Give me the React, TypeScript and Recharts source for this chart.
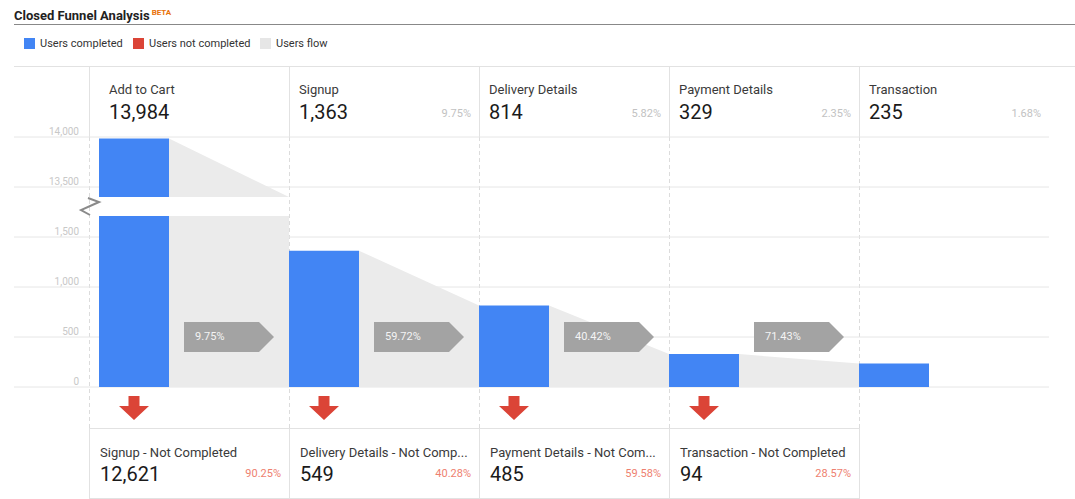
import React from "react";
import { ComposedChart, Area, Scatter, XAxis, YAxis, CartesianGrid } from "recharts";

// funnel steps
const steps = ["Add to Cart", "Signup", "Delivery Details", "Payment Details", "Transaction"];
const completed = [13984, 1363, 814, 329, 235];
const shareOfStart = ["", "9.75%", "5.82%", "2.35%", "1.68%"];
const conversion = ["9.75%", "59.72%", "40.42%", "71.43%"];

// drop-offs between steps (labels as shown, already shortened)
const dropNames = [
  "Signup - Not Completed",
  "Delivery Details - Not Comp...",
  "Payment Details - Not Com...",
  "Transaction - Not Completed",
];
const dropValues = [12621, 549, 485, 94];
const dropShare = ["90.25%", "40.28%", "59.58%", "28.57%"];

// broken y axis: two segments
const upperTicks = [13500, 14000];
const lowerTicks = [0, 500, 1000, 1500];
const upperDomain: [number, number] = [13400, 14000];
const lowerDomain: [number, number] = [0, 1710];
const ARROW_LEVEL = 500;

const W = 1075;
const H = 499;
const LEFT = 14;
const RIGHT_EDGE = 1049;
const FIRST = 99;
const STEP = 190;
const BAR = 70 / STEP;
const X_DOMAIN: [number, number] = [-(FIRST - LEFT) / STEP, (RIGHT_EDGE - FIRST) / STEP];

const BLUE = "#4285f4";
const RED = "#db4437";
const FLOW = "#ebebeb";
const LINE = "#e2e2e2";

const px = (x: number) => FIRST + x * STEP;
const colLeft = (i: number) => (i === 0 ? FIRST - 10 : px(i));
const fmt = (n: number) => n.toLocaleString("en-US");

function segmentRows(min: number, max: number) {
  const rows: { x: number; bar: number | null; flow: number | null }[] = [];
  completed.forEach((v, i) => {
    rows.push({ x: i, bar: v, flow: null }, { x: i + BAR, bar: v, flow: null });
    if (i < completed.length - 1 && v >= min) {
      const next = completed[i + 1];
      const start = Math.min(v, max);
      const end = v > max ? max : Math.max(next, min);
      rows.push({ x: i + BAR, bar: null, flow: start }, { x: i + 1, bar: null, flow: end });
    }
  });
  return rows;
}

const arrowRows = conversion.map((label, i) => ({ x: i + BAR + (1 - BAR) / 2, y: ARROW_LEVEL, label }));

function YTick(props: any) {
  const { y, payload } = props;
  return (
    <text x={LEFT + 65} y={y - 5} textAnchor="end" dominantBaseline="middle" fontSize={10} fill="#c8c8c8" fontFamily="Roboto">
      {fmt(payload.value)}
    </text>
  );
}

function FlowArrow(props: any) {
  const { cx, cy, payload } = props;
  const l = cx - 45;
  return (
    <g>
      <path
        d={`M${l},${cy - 15} L${cx + 30},${cy - 15} L${cx + 45},${cy} L${cx + 30},${cy + 15} L${l},${cy + 15} Z`}
        fill="#a3a3a3"
      />
      <text x={l + 11} y={cy} dominantBaseline="middle" fontSize={11} fill="#f4f4f4" fontFamily="Roboto">
        {payload.label}
      </text>
    </g>
  );
}

function Segment({ top, plotTop, plotHeight, bottom, domain, ticks, arrows }: any) {
  const rows = segmentRows(domain[0], domain[1]);
  return (
    <div style={{ position: "absolute", left: 0, top }}>
      <ComposedChart
        width={W}
        height={plotTop + plotHeight + bottom}
        data={rows}
        margin={{ top: plotTop, right: W - RIGHT_EDGE, bottom, left: LEFT }}
      >
        <CartesianGrid vertical={false} horizontalValues={ticks} stroke="#e6e6e6" />
        <XAxis type="number" dataKey="x" domain={X_DOMAIN} hide allowDataOverflow />
        <YAxis
          type="number"
          domain={domain}
          ticks={ticks}
          interval={0}
          allowDataOverflow
          mirror
          axisLine={false}
          tickLine={false}
          tick={<YTick />}
        />
        <Area dataKey="flow" type="linear" fill={FLOW} fillOpacity={1} stroke="none" isAnimationActive={false} />
        <Area dataKey="bar" type="linear" fill={BLUE} fillOpacity={1} stroke="none" isAnimationActive={false} />
        {arrows && <Scatter data={arrowRows} dataKey="y" shape={FlowArrow} isAnimationActive={false} />}
      </ComposedChart>
    </div>
  );
}

const abs = (s: React.CSSProperties): React.CSSProperties => ({ position: "absolute", whiteSpace: "nowrap", ...s });

export default function App() {
  return (
    <div style={{ position: "absolute", left: 0, top: 0, width: W, height: H, overflow: "hidden", background: "#fff", fontFamily: "Roboto, sans-serif" }}>
      {/* title */}
      <div style={abs({ left: 14, top: 5, fontSize: 13, fontWeight: 700, color: "#222", lineHeight: "16px" })}>
        Closed Funnel Analysis
        <span style={{ fontSize: 8, color: "#e8710a", marginLeft: 2, verticalAlign: 5 }}>BETA</span>
      </div>
      <div style={abs({ left: 14, top: 24, width: W - 14, height: 1, background: "#888" })} />

      {/* legend */}
      {[
        ["Users completed", BLUE, 24],
        ["Users not completed", RED, 133],
        ["Users flow", "#e6e6e6", 260],
      ].map(([label, color, x]) => (
        <React.Fragment key={label as string}>
          <div style={abs({ left: x as number, top: 38, width: 11, height: 11, background: color as string })} />
          <div style={abs({ left: (x as number) + 16, top: 36, fontSize: 11, lineHeight: "16px", color: "#333" })}>{label}</div>
        </React.Fragment>
      ))}

      {/* frame guides */}
      <svg width={W} height={H} style={{ position: "absolute", left: 0, top: 0 }}>
        {steps.map((_, i) => (
          <line key={i} x1={colLeft(i) + 0.5} x2={colLeft(i) + 0.5} y1={137} y2={428} stroke="#dcdcdc" strokeDasharray="4 3" />
        ))}
        <polyline points="88,198 99,202 81,210 90,215" fill="none" stroke="#8a8a8a" strokeWidth={2} />
        {dropValues.map((_, i) => {
          const c = px(i) + 35;
          return (
            <path
              key={i}
              d={`M${c - 5.5},396 L${c + 5.5},396 L${c + 5.5},406 L${c + 15},406 L${c},420 L${c - 15},406 L${c - 5.5},406 Z`}
              fill={RED}
            />
          );
        })}
      </svg>

      {/* header cells */}
      <div style={abs({ left: LEFT, top: 66, width: W - LEFT, height: 1, background: LINE })} />
      {steps.map((name, i) => {
        const right = i < steps.length - 1 ? px(i + 1) : RIGHT_EDGE;
        return (
          <React.Fragment key={name}>
            <div style={abs({ left: colLeft(i), top: 66, width: 1, height: 71, background: LINE })} />
            <div style={abs({ left: px(i) + 10, top: 82, fontSize: 13, lineHeight: "16px", color: "#3a3a3a" })}>{name}</div>
            <div style={abs({ left: px(i) + 10, top: 100, fontSize: 20, lineHeight: "24px", color: "#1a1a1a" })}>{fmt(completed[i])}</div>
            {shareOfStart[i] && (
              <div style={abs({ left: right - 8 - 60, width: 60, textAlign: "right", top: 106, fontSize: 11, lineHeight: "16px", color: "#c2c2c2" })}>
                {shareOfStart[i]}
              </div>
            )}
          </React.Fragment>
        );
      })}

      <Segment top={125} plotTop={12} plotHeight={60} bottom={2} domain={upperDomain} ticks={upperTicks} arrows={false} />
      <Segment top={206} plotTop={10} plotHeight={171} bottom={10} domain={lowerDomain} ticks={lowerTicks} arrows />

      {/* drop-off cells */}
      <div style={abs({ left: colLeft(0), top: 428, width: px(dropValues.length) - colLeft(0), height: 69, borderTop: `1px solid ${LINE}`, borderBottom: `1px solid ${LINE}` })} />
      {dropNames.map((name, i) => {
        const left = colLeft(i);
        const right = px(i + 1);
        return (
          <React.Fragment key={name}>
            <div style={abs({ left, top: 428, width: 1, height: 71, background: LINE })} />
            {i === dropNames.length - 1 && <div style={abs({ left: right, top: 428, width: 1, height: 71, background: LINE })} />}
            <div style={abs({ left: left + 11, top: 445, fontSize: 13, lineHeight: "16px", color: "#3a3a3a" })}>{name}</div>
            <div style={abs({ left: left + 11, top: 462, fontSize: 20, lineHeight: "24px", color: "#1a1a1a" })}>{fmt(dropValues[i])}</div>
            <div style={abs({ left: right - 8 - 60, width: 60, textAlign: "right", top: 466, fontSize: 11, lineHeight: "16px", color: "#ee7f6f" })}>
              {dropShare[i]}
            </div>
          </React.Fragment>
        );
      })}
    </div>
  );
}
